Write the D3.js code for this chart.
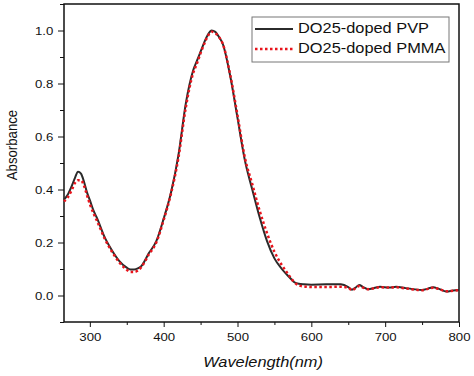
<!DOCTYPE html>
<html lang="en">
<head>
  <meta charset="UTF-8">
  <title>Absorbance spectra</title>
  <script src="https://d3js.org/d3.v7.min.js"></script>
  <style>
    body { margin: 0; background: #fff; font-family: "Liberation Sans", Arial, sans-serif; }
    .axis text { font-size: 11.3px; fill: #111; font-family: "Liberation Sans", Arial, sans-serif; }
    .axis path, .axis line { stroke: #111; }
  </style>
</head>
<body>
  <div id="chart"></div>
  <script>
    // wavelengths (nm)
    var wavelengths = [265, 270, 275, 280, 284, 288, 292, 296, 300, 305, 310, 320, 330, 340, 350, 355, 360, 365, 370,
      380, 390, 400, 410, 420, 430, 440, 445, 450, 455, 460, 465, 470, 475, 480, 490, 500, 510, 520, 530, 540,
      550, 560, 570, 577, 583, 590, 600, 620, 640, 650, 655, 660, 665, 670, 677, 685, 693, 705, 715, 727, 738,
      750, 758, 765, 772, 783, 792, 800];

    var pvp = [0.362, 0.38, 0.41, 0.445, 0.467, 0.46, 0.43, 0.39, 0.36, 0.32, 0.29, 0.22, 0.17, 0.13, 0.105, 0.098, 0.098, 0.102, 0.112,
      0.16, 0.205, 0.29, 0.39, 0.53, 0.725, 0.85, 0.885, 0.92, 0.955, 0.985, 1.0, 0.995, 0.975, 0.95, 0.83, 0.67, 0.51, 0.40, 0.295, 0.205,
      0.14, 0.10, 0.07, 0.05, 0.044, 0.042, 0.041, 0.042, 0.042, 0.032, 0.022, 0.03, 0.04, 0.032, 0.024, 0.028, 0.033, 0.03, 0.033, 0.028, 0.024,
      0.021, 0.026, 0.031, 0.026, 0.015, 0.019, 0.021];

    var pmma = [0.355, 0.37, 0.395, 0.425, 0.435, 0.435, 0.415, 0.38, 0.345, 0.31, 0.28, 0.215, 0.165, 0.125, 0.097, 0.089, 0.089, 0.094, 0.108,
      0.155, 0.2, 0.285, 0.385, 0.52, 0.71, 0.84, 0.875, 0.915, 0.95, 0.98, 0.995, 0.99, 0.975, 0.95, 0.835, 0.68, 0.52, 0.42, 0.32, 0.235,
      0.165, 0.115, 0.075, 0.05, 0.038, 0.034, 0.032, 0.032, 0.033, 0.03, 0.02, 0.028, 0.036, 0.03, 0.024, 0.027, 0.031, 0.03, 0.031, 0.027, 0.023,
      0.02, 0.025, 0.029, 0.025, 0.016, 0.018, 0.02];

    var xTicks = [300, 400, 500, 600, 700, 800];
    var yTicks = [0.0, 0.2, 0.4, 0.6, 0.8, 1.0];
    var seriesNames = ["DO25-doped PVP", "DO25-doped PMMA"];

    var width = 474, height = 376;
    var margin = {top: 4, right: 15, bottom: 54, left: 64};
    var w = width - margin.left - margin.right,
        h = height - margin.top - margin.bottom;
    var sx = 1.17; // the original figure's text is stretched horizontally

    var svg = d3.select("#chart").append("svg")
      .attr("width", width)
      .attr("height", height);

    var g = svg.append("g")
      .attr("transform", "translate(" + margin.left + "," + margin.top + ")");

    var x = d3.scaleLinear().domain([265, 800]).range([0, w]);
    var y = d3.scaleLinear().domain([-0.1, 1.1]).range([h, 0]);

    // minor ticks
    var xMinor = d3.range(350, 800, 100);
    var yMinor = d3.range(-0.1, 1.1, 0.2);

    g.append("g").attr("class", "axis")
      .attr("transform", "translate(0," + h + ")")
      .call(d3.axisBottom(x).tickValues(xMinor).tickSize(3).tickFormat(""))
      .select(".domain").remove();
    g.append("g").attr("class", "axis")
      .call(d3.axisLeft(y).tickValues(yMinor).tickSize(4).tickFormat(""))
      .select(".domain").remove();

    var xAxis = g.append("g").attr("class", "axis")
      .attr("transform", "translate(0," + h + ")")
      .call(d3.axisBottom(x).tickValues(xTicks).tickSize(5).tickSizeOuter(0).tickPadding(6));
    xAxis.select(".domain").remove();
    xAxis.selectAll("text").attr("transform", "scale(" + sx + ",1)");

    var yAxis = g.append("g").attr("class", "axis")
      .call(d3.axisLeft(y).tickValues(yTicks).tickSize(6).tickSizeOuter(0).tickPadding(4).tickFormat(d3.format(".1f")));
    yAxis.select(".domain").remove();
    yAxis.selectAll("text")
      .attr("x", -10.7 / sx)
      .attr("transform", "scale(" + sx + ",1)");

    // frame
    g.append("rect")
      .attr("width", w).attr("height", h)
      .attr("fill", "none")
      .attr("stroke", "#111")
      .attr("stroke-width", 1.5);

    var line = function(vals) {
      return d3.line()
        .x(function(d, i) { return x(wavelengths[i]); })
        .y(function(d) { return y(d); })
        .curve(d3.curveMonotoneX)(vals);
    };

    g.append("path")
      .attr("d", line(pvp))
      .attr("fill", "none")
      .attr("stroke", "#2b2b2b")
      .attr("stroke-width", 2);

    g.append("path")
      .attr("d", line(pmma))
      .attr("fill", "none")
      .attr("stroke", "#e8141c")
      .attr("stroke-width", 2.5)
      .attr("stroke-dasharray", "2.5,2.5");

    // legend
    var legend = svg.append("g");
    legend.append("rect")
      .attr("x", 252).attr("y", 17)
      .attr("width", 197).attr("height", 45)
      .attr("fill", "#fff")
      .attr("stroke", "#777")
      .attr("stroke-width", 1);

    var styles = [
      {stroke: "#2b2b2b", width: 2, dash: null},
      {stroke: "#e8141c", width: 2.5, dash: "2.5,2.5"}
    ];
    seriesNames.forEach(function(name, i) {
      var ly = 29 + i * 20;
      legend.append("line")
        .attr("x1", 255).attr("x2", 293)
        .attr("y1", ly).attr("y2", ly)
        .attr("stroke", styles[i].stroke)
        .attr("stroke-width", styles[i].width)
        .attr("stroke-dasharray", styles[i].dash);
      legend.append("text")
        .attr("transform", "translate(298," + (33.4 + i * 20) + ") scale(" + sx + ",1)")
        .attr("font-size", "14px")
        .attr("fill", "#111")
        .text(name);
    });

    // axis titles
    svg.append("text")
      .attr("transform", "translate(16.5,145) rotate(-90) scale(1," + sx + ")")
      .attr("text-anchor", "middle")
      .attr("font-size", "13.2px")
      .attr("fill", "#111")
      .text("Absorbance");

    svg.append("text")
      .attr("transform", "translate(263,367) scale(" + sx + ",1)")
      .attr("text-anchor", "middle")
      .attr("font-size", "14px")
      .attr("font-style", "italic")
      .attr("fill", "#111")
      .text("Wavelength(nm)");
  </script>
</body>
</html>
